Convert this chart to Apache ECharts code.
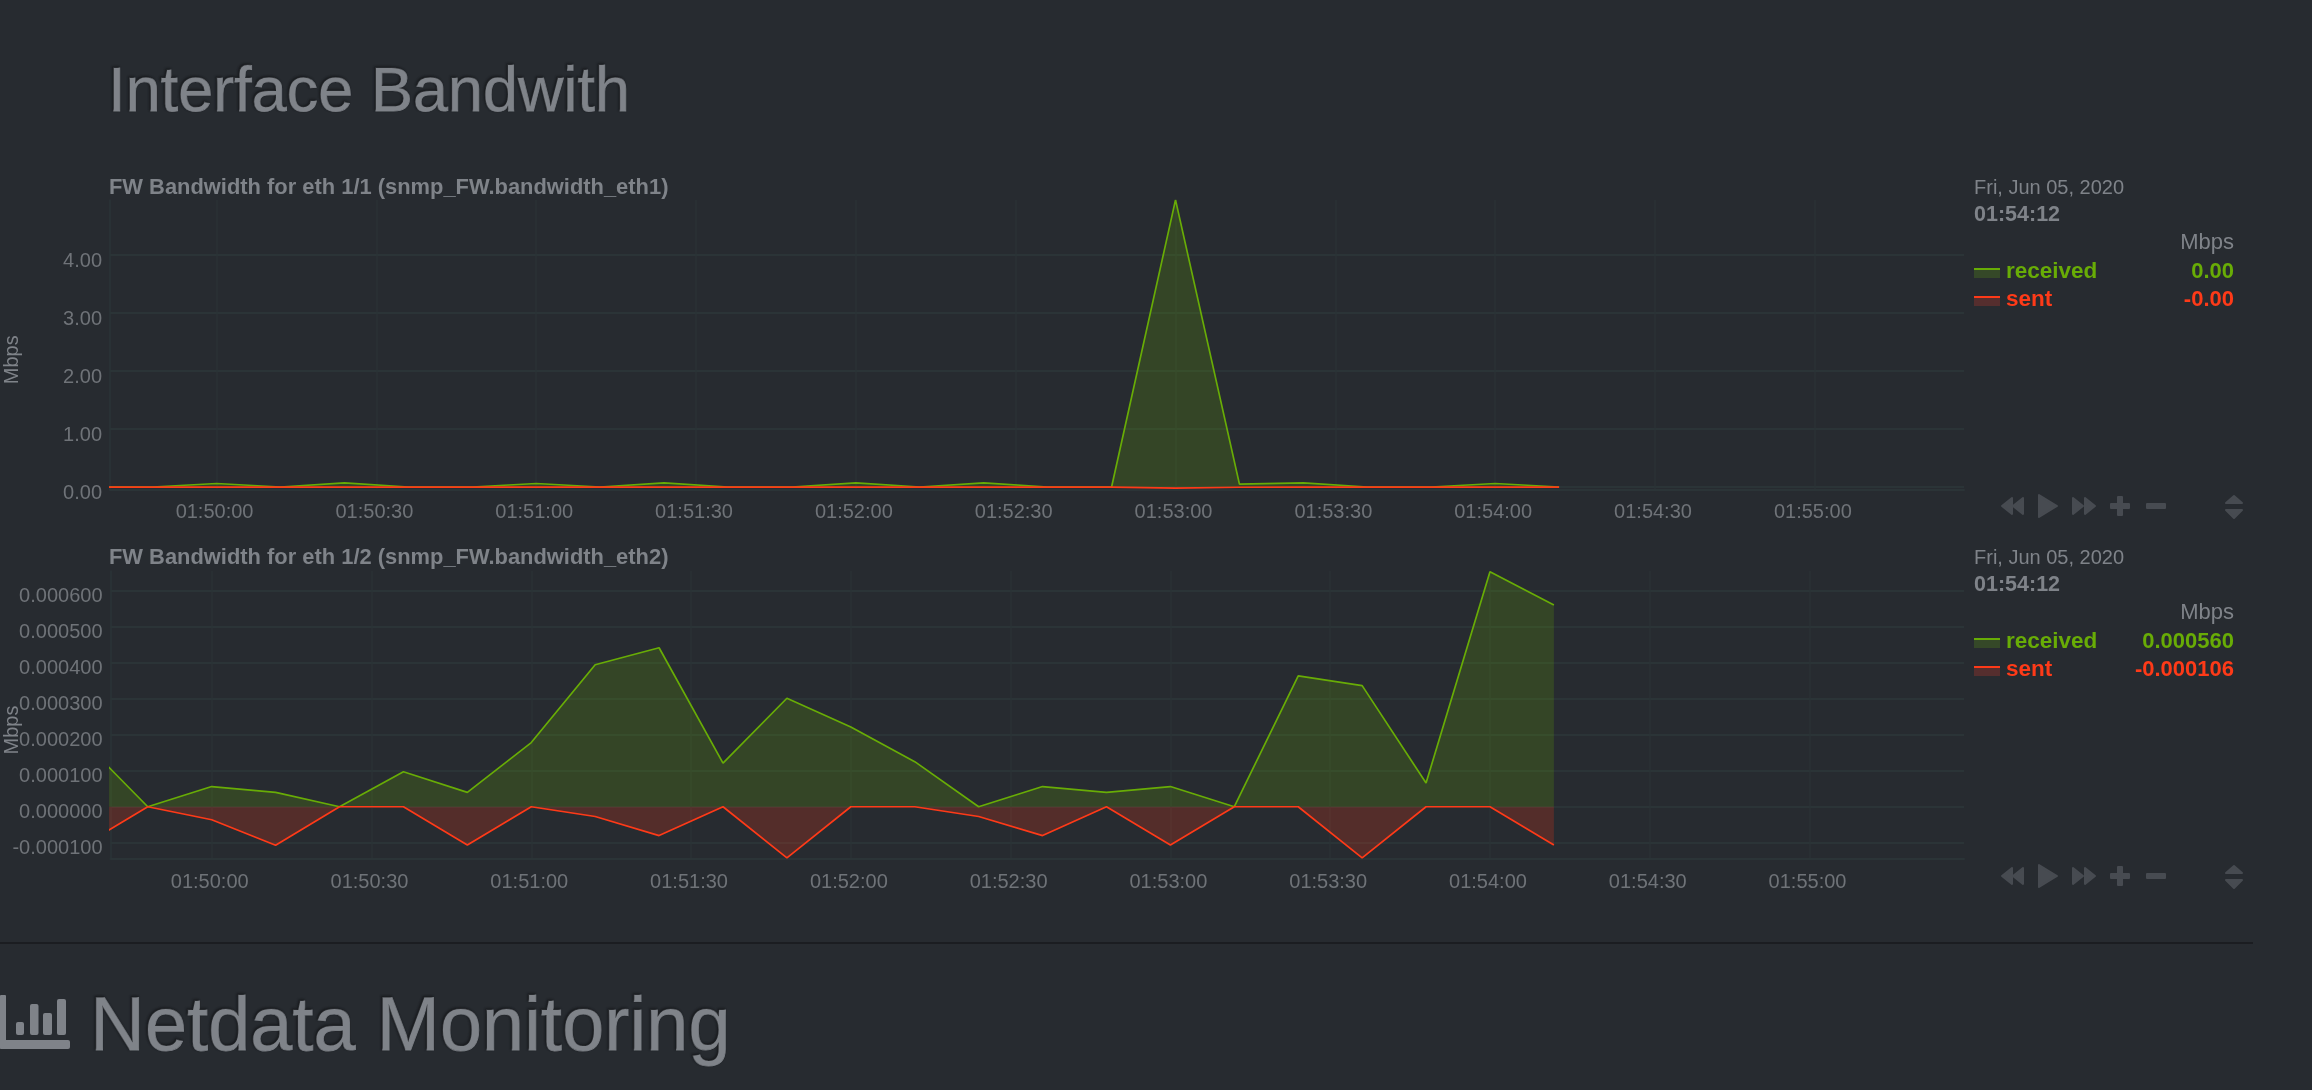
<!DOCTYPE html>
<html>
<head>
<meta charset="utf-8">
<style>html,body{margin:0;padding:0;background:#272b30;overflow:hidden}#c{width:2312px;height:1090px}</style>
<script src="https://cdn.jsdelivr.net/npm/echarts@6/dist/echarts.min.js"></script>
</head>
<body>
<div id="c"></div>
<script>
var pageTitle = 'Interface Bandwith';
var footerTitle = 'Netdata Monitoring';
var title1 = 'FW Bandwidth for eth 1/1 (snmp_FW.bandwidth_eth1)';
var title2 = 'FW Bandwidth for eth 1/2 (snmp_FW.bandwidth_eth2)';
var unit = 'Mbps';
var dateLabel = 'Fri, Jun 05, 2020';
var timeLabel = '01:54:12';
var seriesNames = ['received', 'sent'];
var legendValues1 = ['0.00', '-0.00'];
var legendValues2 = ['0.000560', '-0.000106'];

var times = ['01:49:36','01:49:48','01:50:00','01:50:12','01:50:24','01:50:36','01:50:48','01:51:00','01:51:12','01:51:24','01:51:36','01:51:48','01:52:00','01:52:12','01:52:24','01:52:36','01:52:48','01:53:00','01:53:12','01:53:24','01:53:36','01:53:48','01:54:00','01:54:12'];
var received1 = [0,0,0.06,0,0.07,0,0,0.06,0,0.07,0,0,0.07,0,0.07,0,0,4.95,0.05,0.07,0,0,0.06,0];
var sent1 = [-0.003,-0.003,-0.003,-0.003,-0.003,-0.003,-0.003,-0.003,-0.003,-0.003,-0.003,-0.003,-0.003,-0.003,-0.003,-0.003,-0.003,-0.02,-0.004,-0.003,-0.003,-0.003,-0.003,-0.003];
var received2 = [0.00018,0,0.000056,0.00004,0,0.000097,0.00004,0.000178,0.000394,0.000441,0.000121,0.000301,0.000221,0.000125,0,0.000056,0.00004,0.000056,0,0.000363,0.000336,0.000066,0.000652,0.00056];
var sent2 = [-0.000106,0,-0.000036,-0.000107,0,0,-0.000106,0,-0.000027,-0.00008,0,-0.000142,0,0,-0.000027,-0.00008,0,-0.000106,0,0,-0.000142,0,0,-0.000106];

var xTicks = ['01:50:00','01:50:30','01:51:00','01:51:30','01:52:00','01:52:30','01:53:00','01:53:30','01:54:00','01:54:30','01:55:00'];
var yTicks1 = [0,1,2,3,4];
var yTicks2 = [-0.0001,0,0.0001,0.0002,0.0003,0.0004,0.0005,0.0006];

var GREEN = '#68AC06', RED = '#FE3A18', BG = '#272b30', TXT = '#7f8389', TICK = '#6f7378', GRID = '#2b3437', CTRL = '#474b51';
var FONT = '"Liberation Sans", Arial, sans-serif';
function ms(t){ return Date.UTC(2020,5,5,+t.slice(0,2),+t.slice(3,5),+t.slice(6)); }

function xAxis(i, minT, maxT){
  return { type:'value', gridIndex:i, min:ms(minT), max:ms(maxT), scale:true,
    axisLine:{show:true,onZero:false,lineStyle:{color:GRID,width:2}},
    axisTick:{show:false,customValues:xTicks.map(ms)},
    axisLabel:{customValues:xTicks.map(ms),margin:13,hideOverlap:false,color:TICK,fontSize:20,fontFamily:FONT,padding:[0,4,0,0],
      formatter:function(v){ return new Date(v).toISOString().slice(11,19); }},
    splitLine:{show:true,lineStyle:{color:GRID,width:1.5,opacity:.75}} };
}
function yAxis(i, lo, hi, ticks, dec){
  return { type:'value', gridIndex:i, min:lo, max:hi, name:unit, nameLocation:'middle', nameRotate:90, nameGap:88, nameMoveOverlap:false,
    nameTextStyle:{color:TXT,fontSize:20,fontFamily:FONT,padding:[0,30,0,0]},
    axisLine:{show:true,onZero:false,lineStyle:{color:GRID,width:1.5}},
    axisTick:{show:false,customValues:ticks},
    axisLabel:{customValues:ticks,margin:8,color:TICK,fontSize:20,fontFamily:FONT,verticalAlign:'top',lineHeight:12,
      formatter:function(v){ return v.toFixed(dec); }},
    splitLine:{show:true,lineStyle:{color:GRID,width:2}} };
}
function line(name, i, data, color){
  return { name:name, type:'line', xAxisIndex:i, yAxisIndex:i, symbol:'none', smooth:false, animation:false,
    data:times.map(function(t,k){ return [ms(t),data[k]]; }),
    lineStyle:{color:color,width:1.7}, itemStyle:{color:color}, areaStyle:{color:color,opacity:.21,origin:0} };
}
function txt(x,y,text,size,fill,o){
  return { type:'text', x:x, y:y, silent:true, z:10, style:Object.assign({text:text,fontSize:size,fontFamily:FONT,fill:fill,align:'left',verticalAlign:'middle'},o||{}) };
}
function poly(pts,fill){
  return { type:'polygon', silent:true, z:10, shape:{points:pts}, style:{fill:fill,stroke:fill,lineWidth:2,lineJoin:'round'} };
}
function rect(x,y,w,h,fill,r){
  return { type:'rect', silent:true, z:10, shape:{x:x,y:y,width:w,height:h,r:r||0}, style:{fill:fill} };
}
var shadow = {textShadowColor:'#181a1d',textShadowBlur:2,textShadowOffsetX:-1,textShadowOffsetY:-1,stroke:TXT,lineWidth:1};

function side(dy, vals, chartTitle){
  var ys = dy;
  return [
    txt(109,188+ys,chartTitle,21.9,TXT,{fontWeight:'bold'}),
    txt(1974,188.5+ys,dateLabel,20,TXT),
    txt(1974,215.5+ys,timeLabel,21.5,TXT,{fontWeight:'bold'}),
    txt(2234,243+ys,unit,22,TXT,{align:'right'}),
    rect(1974,268+ys,26,10,GREEN,0), rect(1974,270+ys,26,8,'#354828',0),
    txt(2006,272+ys,seriesNames[0],22.5,GREEN,{fontWeight:'bold'}),
    txt(2234,272+ys,vals[0],22,GREEN,{fontWeight:'bold',align:'right'}),
    rect(1974,296+ys,26,10,RED,0), rect(1974,298+ys,26,8,'#552e2e',0),
    txt(2006,300+ys,seriesNames[1],22.5,RED,{fontWeight:'bold'}),
    txt(2234,300+ys,vals[1],22,RED,{fontWeight:'bold',align:'right'}),
    poly([[2012,498+ys],[2002,506+ys],[2012,514+ys]],CTRL), poly([[2023,498+ys],[2013,506+ys],[2023,514+ys]],CTRL),
    poly([[2039,495+ys],[2057,506+ys],[2039,517+ys]],CTRL),
    poly([[2073,498+ys],[2083,506+ys],[2073,514+ys]],CTRL), poly([[2085,498+ys],[2095,506+ys],[2085,514+ys]],CTRL),
    rect(2110,503+ys,20,6,CTRL,1), rect(2117,496+ys,6,20,CTRL,1),
    rect(2146,503+ys,20,6,CTRL,1),
    poly([[2234,496+ys],[2226,503+ys],[2242,503+ys]],CTRL), poly([[2234,518+ys],[2226,510+ys],[2242,510+ys]],CTRL)
  ];
}

var graphics = [
  txt(108,93.5,pageTitle,63,TXT,shadow),
  rect(0,942,2253,2,'#1b1d21',0),
  txt(90,1029,footerTitle,75.8,TXT,shadow),
  rect(0,995,6,54,TXT,1), rect(0,1040,70,9,TXT,2),
  rect(16,1022,8,13,TXT,2), rect(30,1004,8.5,31,TXT,2), rect(43,1013,9,22,TXT,2), rect(57,999,9,36,TXT,2)
].concat(side(0,legendValues1,title1), side(370,legendValues2,title2));

var chart = echarts.init(document.getElementById('c'), null, {width:2312,height:1090});
chart.setOption({
  backgroundColor:BG, animation:false,
  grid:[
    {left:110,width:1854,top:200,height:289.5,outerBoundsMode:'none'},
    {left:110.5,width:1853.5,top:571,height:288,outerBoundsMode:'none'}
  ],
  xAxis:[ xAxis(0,'01:49:40.3','01:55:28'), xAxis(1,'01:49:41.1','01:55:29') ],
  yAxis:[ yAxis(0,-0.043,4.948,yTicks1,2), yAxis(1,-0.000145,0.000654,yTicks2,6) ],
  series:[ line(seriesNames[0],0,received1,GREEN), line(seriesNames[1],0,sent1,RED),
           line(seriesNames[0],1,received2,GREEN), line(seriesNames[1],1,sent2,RED) ],
  graphic:{elements:graphics}
});
</script>
</body>
</html>
